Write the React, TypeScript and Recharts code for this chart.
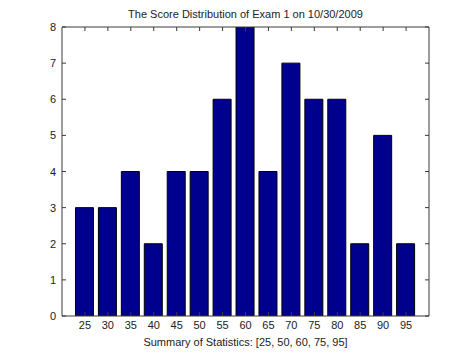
import React from 'react';
import { BarChart, Bar, XAxis, YAxis } from 'recharts';

const scores = [25, 30, 35, 40, 45, 50, 55, 60, 65, 70, 75, 80, 85, 90, 95];
const counts = [3, 3, 4, 2, 4, 4, 6, 8, 4, 7, 6, 6, 2, 5, 2];
const yTicks = [0, 1, 2, 3, 4, 5, 6, 7, 8];
const titleText = 'The Score Distribution of Exam 1 on 10/30/2009';
const xLabelText = 'Summary of Statistics: [25, 50, 60, 75, 95]';

const data = scores.map((s, i) => ({ score: s, count: counts[i] }));

const FONT = '"Liberation Sans", Arial, Helvetica, sans-serif';
const AXIS = '#3a3a3a';
const TEXT = '#222';
const TL = 4;

const BottomTick = (props: any) => {
  const { x, y, payload } = props;
  return (
    <g>
      <line x1={x} x2={x} y1={y} y2={y - TL} stroke={AXIS} />
      <text x={x} y={y + 13} textAnchor="middle" fontSize={11} fontFamily={FONT} fill={TEXT}>
        {payload.value}
      </text>
    </g>
  );
};

const TopTick = (props: any) => {
  const { x, y } = props;
  return <line x1={x} x2={x} y1={y} y2={y + TL} stroke={AXIS} />;
};

const LeftTick = (props: any) => {
  const { x, y, payload } = props;
  return (
    <g>
      <line x1={x} x2={x + TL} y1={y} y2={y} stroke={AXIS} />
      <text x={x - 6} y={y + 4} textAnchor="end" fontSize={11} fontFamily={FONT} fill={TEXT}>
        {payload.value}
      </text>
    </g>
  );
};

const RightTick = (props: any) => {
  const { x, y } = props;
  return <line x1={x} x2={x - TL} y1={y} y2={y} stroke={AXIS} />;
};

export default function App() {
  return (
    <div style={{ position: 'absolute', left: 0, top: 0, width: 474, height: 355, background: '#fff' }}>
      <div
        style={{
          position: 'absolute',
          left: 62,
          width: 367,
          top: 8,
          textAlign: 'center',
          fontFamily: FONT,
          fontSize: 11,
          lineHeight: '13px',
          color: TEXT,
        }}
      >
        {titleText}
      </div>
      <BarChart
        width={474}
        height={355}
        data={data}
        margin={{ top: 26, right: 44, bottom: 0, left: 0 }}
      >
        <XAxis
          xAxisId="b"
          dataKey="score"
          type="number"
          domain={[20, 100]}
          ticks={scores}
          allowDataOverflow
          orientation="bottom"
          height={39}
          tickSize={0}
          tickMargin={0}
          tickLine={false}
          stroke={AXIS}
          tick={<BottomTick />}
          interval={0}
          label={{ value: xLabelText, position: 'insideBottom', offset: 9, fontSize: 11, fontFamily: FONT, fill: TEXT }}
        />
        <XAxis
          xAxisId="t"
          dataKey="score"
          type="number"
          domain={[20, 100]}
          ticks={scores}
          allowDataOverflow
          orientation="top"
          height={1}
          tickSize={0}
          tickMargin={0}
          tickLine={false}
          stroke={AXIS}
          tick={<TopTick />}
          interval={0}
        />
        <YAxis
          yAxisId="l"
          type="number"
          domain={[0, 8]}
          ticks={yTicks}
          allowDataOverflow
          orientation="left"
          width={62}
          tickSize={0}
          tickMargin={0}
          tickLine={false}
          stroke={AXIS}
          tick={<LeftTick />}
          interval={0}
        />
        <YAxis
          yAxisId="r"
          type="number"
          domain={[0, 8]}
          ticks={yTicks}
          allowDataOverflow
          orientation="right"
          width={1}
          tickSize={0}
          tickMargin={0}
          tickLine={false}
          stroke={AXIS}
          tick={<RightTick />}
          interval={0}
        />
        <Bar
          xAxisId="b"
          yAxisId="l"
          dataKey="count"
          fill="#00008F"
          stroke="#000"
          strokeWidth={1}
          barSize={18}
          isAnimationActive={false}
        />
      </BarChart>
    </div>
  );
}
